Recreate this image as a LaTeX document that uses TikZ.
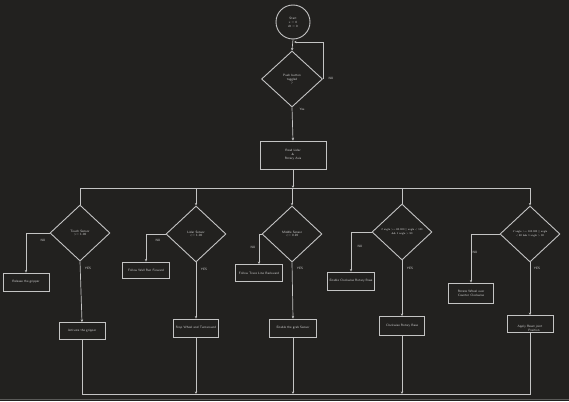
\documentclass[tikz,border=0pt]{standalone}
\usetikzlibrary{shapes.geometric,arrows.meta}
\definecolor{bg}{RGB}{34,33,31}
\definecolor{ln}{RGB}{196,196,196}
\definecolor{tx}{RGB}{210,210,210}
\definecolor{band}{RGB}{90,90,88}
\begin{document}
\begin{tikzpicture}[x=1pt,y=-1pt,
  tiny/.style={font=\sffamily\fontsize{3.2}{3.9}\selectfont, text=tx},
  tinier/.style={font=\sffamily\fontsize{2.7}{3.6}\selectfont},
  box/.style={tiny, draw=ln, line width=0.9pt, rectangle, inner sep=0pt, align=center},
  dec/.style={tiny, draw=ln, line width=0.9pt, diamond, inner sep=0pt, align=center, minimum width=60pt, minimum height=56pt},
  wire/.style={draw=ln, line width=0.7pt},
  conn/.style={wire, -{Stealth[length=2.6pt,width=2.4pt]}},
  lbl/.style={tiny}
]
\fill[bg] (0,0) rectangle (569,401);
\useasboundingbox (0,0) rectangle (569,401);
\draw[band, line width=1.2pt] (0,399.6) -- (569,399.6);

% top part
\node[tiny, draw=ln, line width=0.9pt, circle, minimum size=34pt, inner sep=0pt, align=center] (start) at (293,22) {Start\\ x = 0\\ dt = 0};
\node[dec, minimum width=61pt] (q) at (292,79) {Push button\\ toggled\\ ?};
\node[box, minimum width=66pt, minimum height=28pt] (r) at (293,155) {Read Lidar\\ \&\\ Rotary Axis};
\coordinate (loopin) at (294,42);
\coordinate (bus) at (293,188);
\coordinate (bot) at (293,394);

\draw[conn] (start.south) -- (q.north);
\draw[conn] (q.east) |- (loopin);
\node[lbl, anchor=west] at (325,78) {NO};
\draw[conn] (q.south) -- (r.north);
\node[lbl, anchor=west] at (296,109) {Yes};
\draw[conn] (r.south) -- (bus);

% decisions
\node[dec] (d1) at (80,233) {Touch Sensor\\ >= 1.00};
\node[dec] (d2) at (196,234) {Lidar Sensor\\ <= 1.00};
\node[dec] (d3) at (292,234) {Middle Sensor\\ <= 0.20};
\node[dec, tinier] (d4) at (402,232) {if angle >= 80.000 || angle < 100\\ \&\& 1 angle > 90};
\node[dec, tinier] (d5) at (530,234) {if angle >= 100.000 || angle\\ < 80 \&\& 1 angle > 90};

\draw[wire] (d1.north |- bus) -- (d5.north |- bus);
\draw[wire] (d1.north |- bus) -- (d1.north);
\draw[conn] (d2.north |- bus) -- (d2.north);
\draw[conn] (d3.north |- bus) -- (d3.north);
\draw[wire] (d4.north |- bus) -- (d4.north);
\draw[conn] (d5.north |- bus) -- (d5.north);

% NO boxes
\node[box, minimum width=46pt, minimum height=18pt] (n1) at (26,282) {Release the gripper};
\node[box, minimum width=47pt, minimum height=16pt] (n2) at (146,270) {Follow Wall Run Forward};
\node[box, minimum width=47pt, minimum height=17pt] (n3) at (259,273) {Follow Trace Line Backward};
\node[box, minimum width=47pt, minimum height=18pt] (n4) at (351,281) {Enable Clockwise Rotary Base};
\node[box, minimum width=45pt, minimum height=20pt] (n5) at (471,293) {Rotate Wheel over\\ Counter Clockwise};

\draw[conn] (d1.west) -| (n1.north);
\draw[conn] (d2.west) -| (n2.north);
\draw[conn] (d3.west) -| (n3.north);
\draw[conn] (d4.west) -| (n4.north);
\draw[conn] (d5.west) -| (n5.north);
\node[lbl] at (43,240) {NO};
\node[lbl] at (158,240) {NO};
\node[lbl] at (253,247) {NO};
\node[lbl] at (360,246) {NO};
\node[lbl] at (475,252) {NO};

% YES boxes
\node[box, minimum width=46pt, minimum height=17pt] (a1) at (82,331) {Activate the gripper};
\node[box, minimum width=45pt, minimum height=18pt] (a2) at (196,328) {Stop Wheel and Turnaround};
\node[box, minimum width=47pt, minimum height=18pt] (a3) at (293,328) {Enable the grab Sensor};
\node[box, minimum width=45pt, minimum height=19pt] (a4) at (402,326) {Clockwise Rotary Base};
\node[box, minimum width=46pt, minimum height=17pt, text depth=0pt] (a5) at (530,324) {};
\node[tiny, align=center] at (530,328.5) {Apply Reset joint\\ \hspace*{8pt}Position};

\draw[conn] (d1.south) -- (a1.north);
\draw[conn] (d2.south) -- (a2.north);
\draw[conn] (d3.south) -- (a3.north);
\draw[conn] (d4.south) -- (a4.north);
\draw[conn] (d5.south) -- (a5.north);
\node[lbl] at (88,268) {YES};
\node[lbl] at (204,269) {YES};
\node[lbl] at (300,268) {YES};
\node[lbl] at (410,268) {YES};
\node[lbl] at (537,268) {YES};

% merge
\draw[wire] (a1.south) |- (a5.south |- bot) -- (a5.south);
\draw[conn] (a2.south) -- (a2.south |- bot);
\draw[conn] (a3.south) -- (a3.south |- bot);
\draw[conn] (a4.south) -- (a4.south |- bot);
\end{tikzpicture}
\end{document}
